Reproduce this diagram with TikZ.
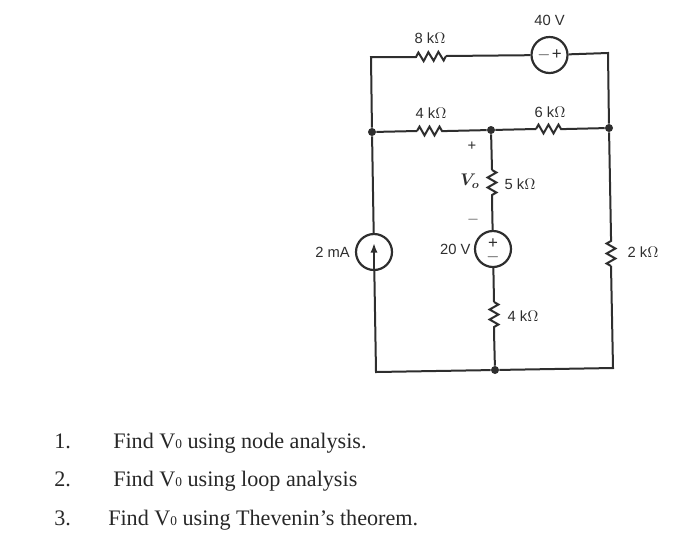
\documentclass[tikz,border=0pt]{standalone}
\usepackage{amsmath}
\usepackage{fontspec}
\setmainfont{Liberation Serif}
\newfontfamily\labelfont{Liberation Sans}
\usetikzlibrary{positioning,arrows.meta,decorations.pathmorphing}
\definecolor{ink}{HTML}{2E2E2E}
\newcommand{\Vzero}{V\raisebox{-0.6pt}{\fontsize{9.5}{9.5}\selectfont 0}}

\begin{document}
\begin{tikzpicture}[x=0.25mm,y=-0.25mm,node distance=1mm and 1mm]
    \tikzstyle{wire}=[draw=ink,line width=0.5mm]
    \tikzstyle{res}=[wire,decorate,decoration={zigzag,segment length=2.5mm,amplitude=1.1mm}]
    \tikzstyle{source}=[circle,draw=ink,line width=0.55mm,minimum size=9mm,inner sep=0pt,text=ink,font=\labelfont\fontsize{12}{9}\selectfont]
    \tikzstyle{junction}=[circle,fill=ink,minimum size=2mm,inner sep=0pt]
    \tikzstyle{lab}=[text=ink,inner sep=0pt,font=\labelfont\fontsize{10.5}{12}\selectfont]
    \tikzstyle{polarity}=[text=ink,inner sep=0pt,font=\labelfont\fontsize{12}{12}\selectfont]
    \tikzstyle{task}=[text=ink!85!black,inner sep=0pt,anchor=base west,font=\fontsize{15.75}{18}\selectfont]

    \useasboundingbox (0,0) rectangle (700,542);

    \coordinate (TL) at (371,57);
    \coordinate (TR) at (608,53);
    \coordinate (BL) at (376,372);
    \coordinate (BR) at (613,368);

    \node[junction] (NL) at (372,132) {};
    \node[junction] (NM) at (491,130) {};
    \node[junction] (NR) at (609,128) {};
    \node[junction] (NB) at (495,370) {};

    \node[source] (S40) at (549.5,55) {$-$\hspace{1pt}+};
    \node[source] (S20) at (493,249) {};
    \node[source] (I2) at (374,252) {};
    \coordinate (I2tip) at (374,243);

    \node[polarity] (S20p) at (493,243.5) {+};
    \node[polarity] (S20m) at (493,257) {$-$};

    \coordinate (R8a) at (416,57);
    \coordinate (R8b) at (446,56);
    \coordinate (R4a) at (417,131);
    \coordinate (R4b) at (447,131);
    \coordinate (R6a) at (536,129);
    \coordinate (R6b) at (566,129);
    \coordinate (R5a) at (492,170);
    \coordinate (R5b) at (492,199);
    \coordinate (R4c) at (494,302);
    \coordinate (R4d) at (494,332);
    \coordinate (R2a) at (611,237);
    \coordinate (R2b) at (611,266);

    \draw[wire] (S40) -- (R8b);
    \draw[res] (R8b) -- (R8a);
    \draw[wire] (R8a) -- (TL) -- (NL);
    \draw[wire] (S40) -- (TR) -- (NR);
    \draw[wire] (NL) -- (R4a);
    \draw[res] (R4a) -- (R4b);
    \draw[wire] (R4b) -- (NM);
    \draw[wire] (NM) -- (R6a);
    \draw[res] (R6a) -- (R6b);
    \draw[wire] (R6b) -- (NR);
    \draw[wire] (NM) -- (R5a);
    \draw[res] (R5a) -- (R5b);
    \draw[wire] (R5b) -- (S20);
    \draw[wire] (S20) -- (R4c);
    \draw[res] (R4c) -- (R4d);
    \draw[wire] (R4d) -- (NB);
    \draw[wire] (NL) -- (I2);
    \draw[wire] (I2) -- (BL) -- (NB);
    \draw[wire] (NB) -- (BR) -- (R2b);
    \draw[res] (R2b) -- (R2a);
    \draw[wire] (R2a) -- (NR);
    \draw[wire,-{Latex[length=2.4mm,width=1.8mm]}] (I2.south) -- (I2tip);

    \node[lab] (L40) [above=2.5mm of S40] {40 V};
    \node[lab] (L8) at (430,38) {8 k$\Omega$};
    \node[lab] (L4) at (431,113) {4 k$\Omega$};
    \node[lab] (L6) at (550,112) {6 k$\Omega$};
    \node[lab] (L5) at (520,184) {5 k$\Omega$};
    \node[lab] (L2) at (643,252) {2 k$\Omega$};
    \node[lab] (L4b) at (523,316) {4 k$\Omega$};
    \node[lab] (LI) [left=1.2mm of I2] {2 mA};
    \node[lab] (L20) [left=0.8mm of S20] {20 V};
    \node[lab] (LP) at (472,146) {+};
    \node[lab] (LV) at (470,181) {\fontsize{12}{12}\selectfont$\boldsymbol{V_o}$};
    \node[lab] (LM) at (473,220) {$-$};

    \node[task] (N1) at (54,448) {1.};
    \node[task] (N2) at (54,486) {2.};
    \node[task] (N3) at (54,525) {3.};
    \node[task] (T1) at (113,448) {Find \Vzero{} using node analysis.};
    \node[task] (T2) at (113,486) {Find \Vzero{} using loop analysis};
    \node[task] (T3) at (108,525) {Find \Vzero{} using Thevenin’s theorem.};
\end{tikzpicture}
\end{document}
